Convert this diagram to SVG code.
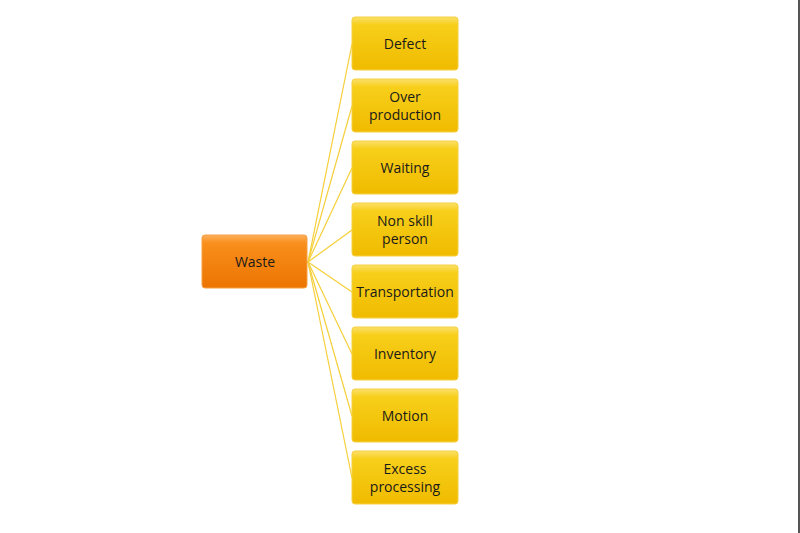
<svg xmlns="http://www.w3.org/2000/svg" width="800" height="533" viewBox="0 0 800 533">
<defs>
<linearGradient id="gy" x1="0" y1="0" x2="0" y2="1"><stop offset="0" stop-color="#fbe06a"/><stop offset="0.15" stop-color="#f7cf1a"/><stop offset="1" stop-color="#f0bb00"/></linearGradient>
<linearGradient id="go" x1="0" y1="0" x2="0" y2="1"><stop offset="0" stop-color="#fcb060"/><stop offset="0.15" stop-color="#f98f1c"/><stop offset="1" stop-color="#ec7400"/></linearGradient>
<style>
.y{fill:url(#gy);stroke:#f6d040;stroke-width:1}
.o{fill:url(#go);stroke:#f5a040;stroke-width:1}
text{font-family:"Open Sans","Liberation Sans",sans-serif;font-size:14px;fill:#1a1a1a;text-anchor:middle}
.c line{stroke:#f5cf3a;stroke-width:1.2}
</style>
</defs>
<rect width="800" height="533" fill="#fff"/>
<line x1="799" y1="0" x2="799" y2="533" stroke="#555" stroke-width="2"/>
<g class="c">
<line x1="308" y1="262" x2="352" y2="44"/>
<line x1="308" y1="262" x2="352" y2="106"/>
<line x1="308" y1="262" x2="352" y2="168"/>
<line x1="308" y1="262" x2="352" y2="230"/>
<line x1="308" y1="262" x2="352" y2="292"/>
<line x1="308" y1="262" x2="352" y2="354"/>
<line x1="308" y1="262" x2="352" y2="416"/>
<line x1="308" y1="262" x2="352" y2="478"/>
</g>
<g id="waste"><rect class="o" x="202" y="235" width="105" height="53" rx="3"/><text x="255" y="267">Waste</text></g>
<g id="defect"><rect class="y" x="352" y="17" width="106" height="53" rx="3"/><text x="405" y="49">Defect</text></g>
<g id="over"><rect class="y" x="352" y="79" width="106" height="53" rx="3"/><text x="405" y="102">Over</text><text x="405" y="120">production</text></g>
<g id="waiting"><rect class="y" x="352" y="141" width="106" height="53" rx="3"/><text x="405" y="173">Waiting</text></g>
<g id="nonskill"><rect class="y" x="352" y="203" width="106" height="53" rx="3"/><text x="405" y="226">Non skill</text><text x="405" y="244">person</text></g>
<g id="transport"><rect class="y" x="352" y="265" width="106" height="53" rx="3"/><text x="405" y="297">Transportation</text></g>
<g id="inventory"><rect class="y" x="352" y="327" width="106" height="53" rx="3"/><text x="405" y="359">Inventory</text></g>
<g id="motion"><rect class="y" x="352" y="389" width="106" height="53" rx="3"/><text x="405" y="421">Motion</text></g>
<g id="excess"><rect class="y" x="352" y="451" width="106" height="53" rx="3"/><text x="405" y="474">Excess</text><text x="405" y="492">processing</text></g>
</svg>
